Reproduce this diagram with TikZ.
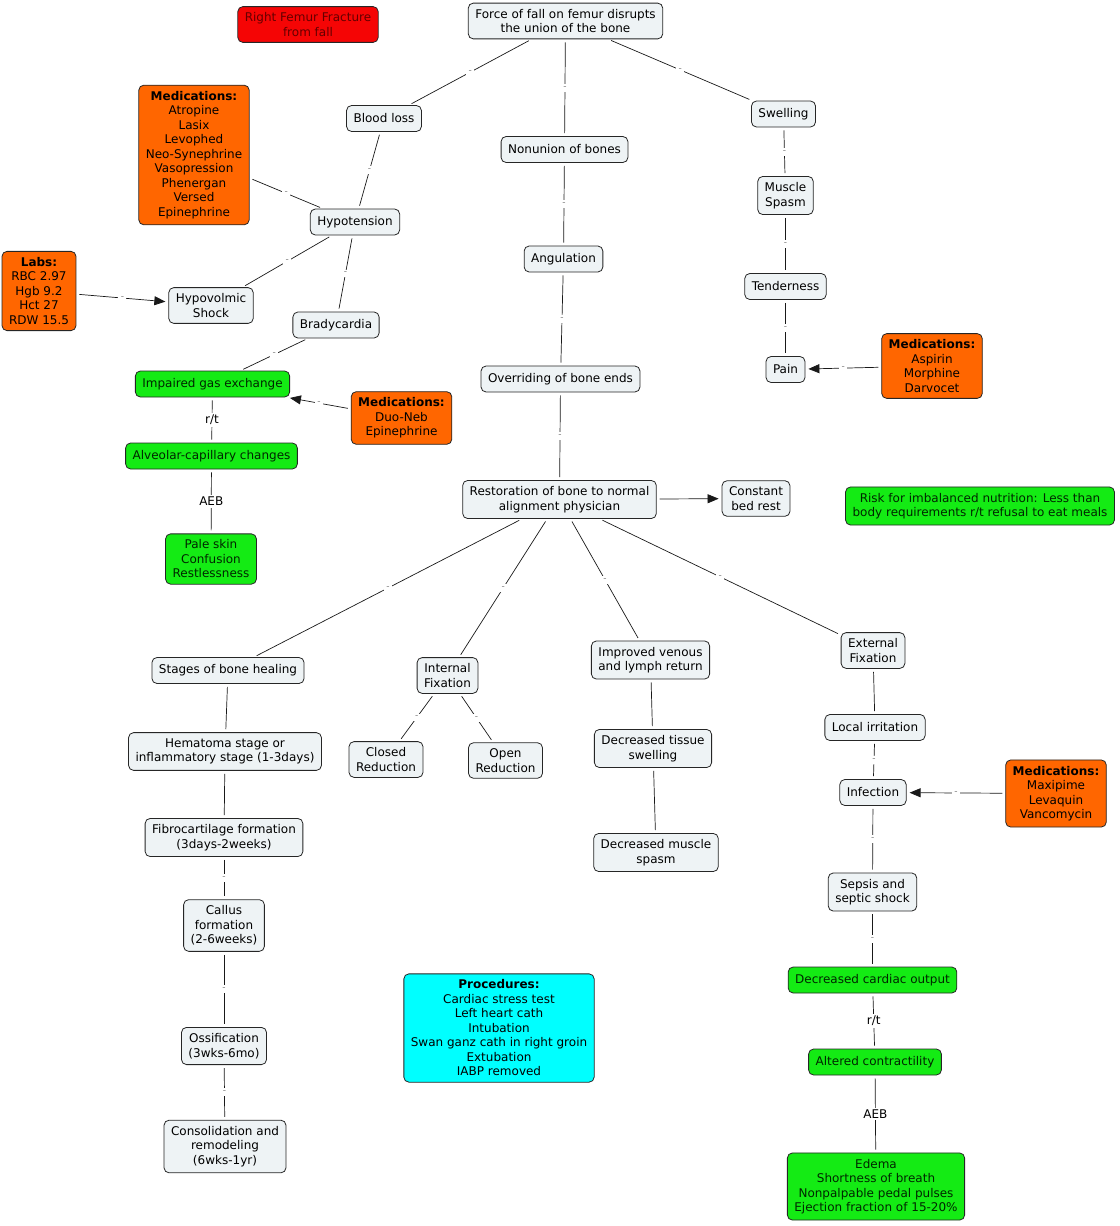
\documentclass[tikz,border=0pt]{standalone}
\usepackage{fontspec}
\setmainfont{DejaVu Sans}
\usetikzlibrary{arrows.meta}

\definecolor{conceptfill}{RGB}{238,243,245}
\definecolor{medorange}{RGB}{255,102,0}
\definecolor{nursegreen}{RGB}{20,235,20}
\definecolor{alertred}{RGB}{245,5,5}
\definecolor{proccyan}{RGB}{0,255,255}
\definecolor{alerttext}{RGB}{100,0,0}

\tikzset{
  concept/.style={draw=black!85, line width=0.8pt, rounded corners=5pt, fill=conceptfill,
    align=center, inner xsep=7pt, inner ysep=6pt, minimum height=26pt,
    font=\fontsize{12}{14.5}\selectfont},
  medbox/.style={concept, fill=medorange},
  nursebox/.style={concept, fill=nursegreen, text=black!85!green},
  alertbox/.style={concept, fill=alertred, text=alerttext},
  procbox/.style={concept, fill=proccyan},
  link/.style={draw=black!90, line width=0.7pt, shorten <=3pt, shorten >=3pt},
  arrowlink/.style={link, -{Triangle[length=11pt,width=9pt]}},
  dashlbl/.style={fill=white, inner sep=2.5pt, text=black!50, font=\fontsize{9}{9}\selectfont},
  wordlbl/.style={fill=white, inner sep=2pt, font=\fontsize{12}{14}\selectfont},
}

\begin{document}
\begin{tikzpicture}[x=1pt,y=-1pt]
  \useasboundingbox (0,0) rectangle (1119,1226);

  % 顶部
  \node[alertbox] (fracture) at (308,24.5) {Right Femur Fracture\\from fall};
  \node[concept] (force) at (565.5,21) {Force of fall on femur disrupts\\the union of the bone};

  % 左侧分支
  \node[concept] (bloodloss) at (384,118.5) {Blood loss};
  \node[medbox] (medsone) at (194,155) {\textbf{Medications:}\\Atropine\\Lasix\\Levophed\\Neo-Synephrine\\Vasopression\\Phenergan\\Versed\\Epinephrine};
  \node[concept] (hypotension) at (355,222) {Hypotension};
  \node[medbox] (labs) at (39,291) {\textbf{Labs:}\\RBC 2.97\\Hgb 9.2\\Hct 27\\RDW 15.5};
  \node[concept] (hypovolemic) at (211,305.5) {Hypovolmic\\Shock};
  \node[concept] (bradycardia) at (336,325) {Bradycardia};
  \node[nursebox] (gasexchange) at (212.5,384) {Impaired gas exchange};
  \node[medbox] (medstwo) at (401.5,418) {\textbf{Medications:}\\Duo-Neb\\Epinephrine};
  \node[nursebox] (alveolar) at (211.5,456) {Alveolar-capillary changes};
  \node[nursebox] (paleskin) at (211,559) {Pale skin\\Confusion\\Restlessness};

  % 中间分支
  \node[concept] (nonunion) at (564.5,149.5) {Nonunion of bones};
  \node[concept] (angulation) at (563.5,259) {Angulation};
  \node[concept] (overriding) at (560.5,379) {Overriding of bone ends};
  \node[concept] (restoration) at (559.5,499.5) {Restoration of bone to normal\\alignment physician};
  \node[concept] (bedrest) at (756,498.5) {Constant\\bed rest};
  \node[nursebox] (nutrition) at (980,506) {Risk for imbalanced nutrition: Less than\\body requirements r/t refusal to eat meals};

  % 右侧分支
  \node[concept] (swelling) at (783.5,114) {Swelling};
  \node[concept] (spasm) at (785.5,195.5) {Muscle\\Spasm};
  \node[concept] (tenderness) at (785.5,286.5) {Tenderness};
  \node[concept] (pain) at (785.5,369.5) {Pain};
  \node[medbox] (medsthree) at (932,366) {\textbf{Medications:}\\Aspirin\\Morphine\\Darvocet};

  % 骨愈合阶段
  \node[concept] (stages) at (228,670.5) {Stages of bone healing};
  \node[concept] (hematoma) at (225,751.5) {Hematoma stage or\\inflammatory stage (1-3days)};
  \node[concept] (fibro) at (224,837.5) {Fibrocartilage formation\\(3days-2weeks)};
  \node[concept] (callus) at (224,925.5) {Callus\\formation\\(2-6weeks)};
  \node[concept] (ossification) at (224,1046) {Ossification\\(3wks-6mo)};
  \node[concept] (consolidation) at (225,1146.5) {Consolidation and\\remodeling\\(6wks-1yr)};

  % 固定
  \node[concept] (internal) at (447.5,675.5) {Internal\\Fixation};
  \node[concept] (closed) at (386,759.5) {Closed\\Reduction};
  \node[concept] (open) at (505.5,760.5) {Open\\Reduction};
  \node[concept] (venous) at (650.5,660) {Improved venous\\and lymph return};
  \node[concept] (tissue) at (653,748.5) {Decreased tissue\\swelling};
  \node[concept] (musclespasm) at (656,852.5) {Decreased muscle\\spasm};
  \node[procbox] (procedures) at (499,1028) {\textbf{Procedures:}\\Cardiac stress test\\Left heart cath\\Intubation\\Swan ganz cath in right groin\\Extubation\\IABP removed};

  % 外固定
  \node[concept] (external) at (873,650.5) {External\\Fixation};
  \node[concept] (irritation) at (875,727.5) {Local irritation};
  \node[concept] (infection) at (873,792.5) {Infection};
  \node[medbox] (medsfour) at (1056,793.5) {\textbf{Medications:}\\Maxipime\\Levaquin\\Vancomycin};
  \node[concept] (sepsis) at (872.5,892) {Sepsis and\\septic shock};
  \node[nursebox] (cardiac) at (872.5,980) {Decreased cardiac output};
  \node[nursebox] (contractility) at (875,1062) {Altered contractility};
  \node[nursebox] (edema) at (876,1186.5) {Edema\\Shortness of breath\\Nonpalpable pedal pulses\\Ejection fraction of 15-20\%};

  % 连线
  \draw[link] (force) -- node[dashlbl]{-} (bloodloss);
  \draw[link] (force) -- node[dashlbl]{-} (nonunion);
  \draw[link] (force) -- node[dashlbl]{-} (swelling);
  \draw[link] (bloodloss) -- node[dashlbl]{-} (hypotension);
  \draw[link] (medsone) -- node[dashlbl]{-} (hypotension);
  \draw[link] (hypotension) -- node[dashlbl]{-} (hypovolemic);
  \draw[link] (hypotension) -- node[dashlbl]{-} (bradycardia);
  \draw[arrowlink] (labs) -- node[dashlbl]{-} (hypovolemic);
  \draw[link] (bradycardia) -- node[dashlbl]{-} (gasexchange);
  \draw[arrowlink] (medstwo) -- node[dashlbl]{-} (gasexchange);
  \draw[link] (gasexchange) -- node[wordlbl]{r/t} (alveolar);
  \draw[link] (alveolar) -- node[wordlbl]{AEB} (paleskin);

  \draw[link] (swelling) -- node[dashlbl]{-} (spasm);
  \draw[link] (spasm) -- node[dashlbl]{-} (tenderness);
  \draw[link] (tenderness) -- node[dashlbl]{-} (pain);
  \draw[arrowlink] (medsthree) -- node[dashlbl]{-} (pain);

  \draw[link] (nonunion) -- node[dashlbl]{-} (angulation);
  \draw[link] (angulation) -- node[dashlbl]{-} (overriding);
  \draw[link] (overriding) -- node[dashlbl]{-} (restoration);
  \draw[arrowlink] (restoration) -- (bedrest);
  \draw[link] (restoration) -- node[dashlbl]{-} (stages);
  \draw[link] (restoration) -- node[dashlbl]{-} (internal);
  \draw[link] (restoration) -- node[dashlbl]{-} (venous);
  \draw[link] (restoration) -- node[dashlbl]{-} (external);

  \draw[link] (stages) -- (hematoma);
  \draw[link] (hematoma) -- (fibro);
  \draw[link] (fibro) -- node[dashlbl]{-} (callus);
  \draw[link] (callus) -- node[dashlbl]{-} (ossification);
  \draw[link] (ossification) -- node[dashlbl]{-} (consolidation);

  \draw[link] (internal) -- node[dashlbl]{-} (closed);
  \draw[link] (internal) -- node[dashlbl]{-} (open);
  \draw[link] (venous) -- (tissue);
  \draw[link] (tissue) -- (musclespasm);

  \draw[link] (external) -- (irritation);
  \draw[link] (irritation) -- node[dashlbl]{-} (infection);
  \draw[arrowlink] (medsfour) -- node[dashlbl]{-} (infection);
  \draw[link] (infection) -- node[dashlbl]{-} (sepsis);
  \draw[link] (sepsis) -- node[dashlbl]{-} (cardiac);
  \draw[link] (cardiac) -- node[wordlbl]{r/t} (contractility);
  \draw[link] (contractility) -- node[wordlbl]{AEB} (edema);

\end{tikzpicture}
\end{document}
